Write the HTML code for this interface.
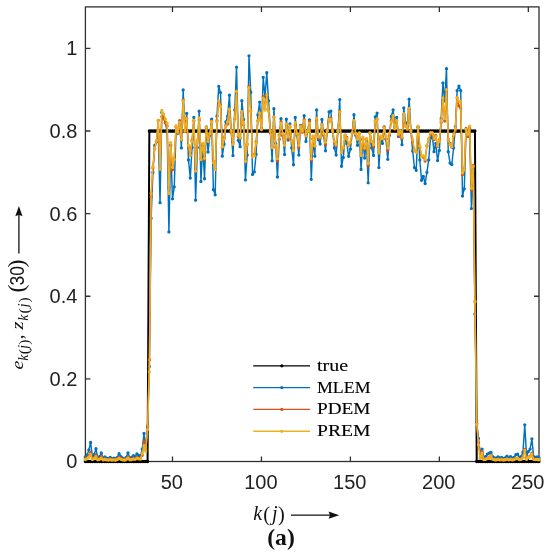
<!DOCTYPE html>
<html lang="en"><head><meta charset="utf-8"><title>Figure (a)</title>
<style>html,body{margin:0;padding:0;background:#fff}svg{display:block}</style></head>
<body>
<svg width="550" height="558" viewBox="0 0 550 558">
<rect width="550" height="558" fill="#fff"/>
<rect x="85.4" y="6.9" width="453.6" height="454.6" fill="none" stroke="#303030" stroke-width="1.3"/>
<path d="M172.48 461.5v-5M172.48 6.9v5M261.44 461.5v-5M261.44 6.9v5M350.40 461.5v-5M350.40 6.9v5M439.36 461.5v-5M439.36 6.9v5M528.32 461.5v-5M528.32 6.9v5M85.4 461.50h5M539.0 461.50h-5M85.4 378.88h5M539.0 378.88h-5M85.4 296.26h5M539.0 296.26h-5M85.4 213.64h5M539.0 213.64h-5M85.4 131.02h5M539.0 131.02h-5M85.4 48.40h5M539.0 48.40h-5" stroke="#303030" stroke-width="1.3" fill="none"/>
<g font-family="'Liberation Sans', sans-serif" font-size="20" fill="#222">
<text x="171.88" y="488.7" text-anchor="middle">50</text>
<text x="260.84" y="488.7" text-anchor="middle">100</text>
<text x="349.80" y="488.7" text-anchor="middle">150</text>
<text x="438.76" y="488.7" text-anchor="middle">200</text>
<text x="527.72" y="488.7" text-anchor="middle">250</text>
<text x="77.4" y="468.40" text-anchor="end">0</text>
<text x="77.4" y="385.78" text-anchor="end">0.2</text>
<text x="77.4" y="303.16" text-anchor="end">0.4</text>
<text x="77.4" y="220.54" text-anchor="end">0.6</text>
<text x="77.4" y="137.92" text-anchor="end">0.8</text>
<text x="77.4" y="55.30" text-anchor="end">1</text>
</g>
<polyline points="85.30,461.50 87.08,461.50 88.86,461.50 90.64,461.50 92.42,461.50 94.20,461.50 95.98,461.50 97.75,461.50 99.53,461.50 101.31,461.50 103.09,461.50 104.87,461.50 106.65,461.50 108.43,461.50 110.21,461.50 111.99,461.50 113.77,461.50 115.55,461.50 117.33,461.50 119.10,461.50 120.88,461.50 122.66,461.50 124.44,461.50 126.22,461.50 128.00,461.50 129.78,461.50 131.56,461.50 133.34,461.50 135.12,461.50 136.90,461.50 138.68,461.50 140.46,461.50 142.23,461.50 144.01,461.50 145.79,461.50 147.57,461.50 149.35,131.02 151.13,131.02 152.91,131.02 154.69,131.02 156.47,131.02 158.25,131.02 160.03,131.02 161.81,131.02 163.58,131.02 165.36,131.02 167.14,131.02 168.92,131.02 170.70,131.02 172.48,131.02 174.26,131.02 176.04,131.02 177.82,131.02 179.60,131.02 181.38,131.02 183.16,131.02 184.94,131.02 186.71,131.02 188.49,131.02 190.27,131.02 192.05,131.02 193.83,131.02 195.61,131.02 197.39,131.02 199.17,131.02 200.95,131.02 202.73,131.02 204.51,131.02 206.29,131.02 208.06,131.02 209.84,131.02 211.62,131.02 213.40,131.02 215.18,131.02 216.96,131.02 218.74,131.02 220.52,131.02 222.30,131.02 224.08,131.02 225.86,131.02 227.64,131.02 229.42,131.02 231.19,131.02 232.97,131.02 234.75,131.02 236.53,131.02 238.31,131.02 240.09,131.02 241.87,131.02 243.65,131.02 245.43,131.02 247.21,131.02 248.99,131.02 250.77,131.02 252.54,131.02 254.32,131.02 256.10,131.02 257.88,131.02 259.66,131.02 261.44,131.02 263.22,131.02 265.00,131.02 266.78,131.02 268.56,131.02 270.34,131.02 272.12,131.02 273.90,131.02 275.67,131.02 277.45,131.02 279.23,131.02 281.01,131.02 282.79,131.02 284.57,131.02 286.35,131.02 288.13,131.02 289.91,131.02 291.69,131.02 293.47,131.02 295.25,131.02 297.02,131.02 298.80,131.02 300.58,131.02 302.36,131.02 304.14,131.02 305.92,131.02 307.70,131.02 309.48,131.02 311.26,131.02 313.04,131.02 314.82,131.02 316.60,131.02 318.38,131.02 320.15,131.02 321.93,131.02 323.71,131.02 325.49,131.02 327.27,131.02 329.05,131.02 330.83,131.02 332.61,131.02 334.39,131.02 336.17,131.02 337.95,131.02 339.73,131.02 341.50,131.02 343.28,131.02 345.06,131.02 346.84,131.02 348.62,131.02 350.40,131.02 352.18,131.02 353.96,131.02 355.74,131.02 357.52,131.02 359.30,131.02 361.08,131.02 362.86,131.02 364.63,131.02 366.41,131.02 368.19,131.02 369.97,131.02 371.75,131.02 373.53,131.02 375.31,131.02 377.09,131.02 378.87,131.02 380.65,131.02 382.43,131.02 384.21,131.02 385.98,131.02 387.76,131.02 389.54,131.02 391.32,131.02 393.10,131.02 394.88,131.02 396.66,131.02 398.44,131.02 400.22,131.02 402.00,131.02 403.78,131.02 405.56,131.02 407.34,131.02 409.11,131.02 410.89,131.02 412.67,131.02 414.45,131.02 416.23,131.02 418.01,131.02 419.79,131.02 421.57,131.02 423.35,131.02 425.13,131.02 426.91,131.02 428.69,131.02 430.46,131.02 432.24,131.02 434.02,131.02 435.80,131.02 437.58,131.02 439.36,131.02 441.14,131.02 442.92,131.02 444.70,131.02 446.48,131.02 448.26,131.02 450.04,131.02 451.82,131.02 453.59,131.02 455.37,131.02 457.15,131.02 458.93,131.02 460.71,131.02 462.49,131.02 464.27,131.02 466.05,131.02 467.83,131.02 469.61,131.02 471.39,131.02 473.17,131.02 474.94,131.02 476.72,461.50 478.50,461.50 480.28,461.50 482.06,461.50 483.84,461.50 485.62,461.50 487.40,461.50 489.18,461.50 490.96,461.50 492.74,461.50 494.52,461.50 496.30,461.50 498.07,461.50 499.85,461.50 501.63,461.50 503.41,461.50 505.19,461.50 506.97,461.50 508.75,461.50 510.53,461.50 512.31,461.50 514.09,461.50 515.87,461.50 517.65,461.50 519.42,461.50 521.20,461.50 522.98,461.50 524.76,461.50 526.54,461.50 528.32,461.50 530.10,461.50 531.88,461.50 533.66,461.50 535.44,461.50 537.22,461.50 539.00,461.50" fill="none" stroke="#000000" stroke-width="2.0" stroke-linejoin="round"/>
<path d="M85.30 461.50h0M87.08 461.50h0M88.86 461.50h0M90.64 461.50h0M92.42 461.50h0M94.20 461.50h0M95.98 461.50h0M97.75 461.50h0M99.53 461.50h0M101.31 461.50h0M103.09 461.50h0M104.87 461.50h0M106.65 461.50h0M108.43 461.50h0M110.21 461.50h0M111.99 461.50h0M113.77 461.50h0M115.55 461.50h0M117.33 461.50h0M119.10 461.50h0M120.88 461.50h0M122.66 461.50h0M124.44 461.50h0M126.22 461.50h0M128.00 461.50h0M129.78 461.50h0M131.56 461.50h0M133.34 461.50h0M135.12 461.50h0M136.90 461.50h0M138.68 461.50h0M140.46 461.50h0M142.23 461.50h0M144.01 461.50h0M145.79 461.50h0M147.57 461.50h0M149.35 131.02h0M151.13 131.02h0M152.91 131.02h0M154.69 131.02h0M156.47 131.02h0M158.25 131.02h0M160.03 131.02h0M161.81 131.02h0M163.58 131.02h0M165.36 131.02h0M167.14 131.02h0M168.92 131.02h0M170.70 131.02h0M172.48 131.02h0M174.26 131.02h0M176.04 131.02h0M177.82 131.02h0M179.60 131.02h0M181.38 131.02h0M183.16 131.02h0M184.94 131.02h0M186.71 131.02h0M188.49 131.02h0M190.27 131.02h0M192.05 131.02h0M193.83 131.02h0M195.61 131.02h0M197.39 131.02h0M199.17 131.02h0M200.95 131.02h0M202.73 131.02h0M204.51 131.02h0M206.29 131.02h0M208.06 131.02h0M209.84 131.02h0M211.62 131.02h0M213.40 131.02h0M215.18 131.02h0M216.96 131.02h0M218.74 131.02h0M220.52 131.02h0M222.30 131.02h0M224.08 131.02h0M225.86 131.02h0M227.64 131.02h0M229.42 131.02h0M231.19 131.02h0M232.97 131.02h0M234.75 131.02h0M236.53 131.02h0M238.31 131.02h0M240.09 131.02h0M241.87 131.02h0M243.65 131.02h0M245.43 131.02h0M247.21 131.02h0M248.99 131.02h0M250.77 131.02h0M252.54 131.02h0M254.32 131.02h0M256.10 131.02h0M257.88 131.02h0M259.66 131.02h0M261.44 131.02h0M263.22 131.02h0M265.00 131.02h0M266.78 131.02h0M268.56 131.02h0M270.34 131.02h0M272.12 131.02h0M273.90 131.02h0M275.67 131.02h0M277.45 131.02h0M279.23 131.02h0M281.01 131.02h0M282.79 131.02h0M284.57 131.02h0M286.35 131.02h0M288.13 131.02h0M289.91 131.02h0M291.69 131.02h0M293.47 131.02h0M295.25 131.02h0M297.02 131.02h0M298.80 131.02h0M300.58 131.02h0M302.36 131.02h0M304.14 131.02h0M305.92 131.02h0M307.70 131.02h0M309.48 131.02h0M311.26 131.02h0M313.04 131.02h0M314.82 131.02h0M316.60 131.02h0M318.38 131.02h0M320.15 131.02h0M321.93 131.02h0M323.71 131.02h0M325.49 131.02h0M327.27 131.02h0M329.05 131.02h0M330.83 131.02h0M332.61 131.02h0M334.39 131.02h0M336.17 131.02h0M337.95 131.02h0M339.73 131.02h0M341.50 131.02h0M343.28 131.02h0M345.06 131.02h0M346.84 131.02h0M348.62 131.02h0M350.40 131.02h0M352.18 131.02h0M353.96 131.02h0M355.74 131.02h0M357.52 131.02h0M359.30 131.02h0M361.08 131.02h0M362.86 131.02h0M364.63 131.02h0M366.41 131.02h0M368.19 131.02h0M369.97 131.02h0M371.75 131.02h0M373.53 131.02h0M375.31 131.02h0M377.09 131.02h0M378.87 131.02h0M380.65 131.02h0M382.43 131.02h0M384.21 131.02h0M385.98 131.02h0M387.76 131.02h0M389.54 131.02h0M391.32 131.02h0M393.10 131.02h0M394.88 131.02h0M396.66 131.02h0M398.44 131.02h0M400.22 131.02h0M402.00 131.02h0M403.78 131.02h0M405.56 131.02h0M407.34 131.02h0M409.11 131.02h0M410.89 131.02h0M412.67 131.02h0M414.45 131.02h0M416.23 131.02h0M418.01 131.02h0M419.79 131.02h0M421.57 131.02h0M423.35 131.02h0M425.13 131.02h0M426.91 131.02h0M428.69 131.02h0M430.46 131.02h0M432.24 131.02h0M434.02 131.02h0M435.80 131.02h0M437.58 131.02h0M439.36 131.02h0M441.14 131.02h0M442.92 131.02h0M444.70 131.02h0M446.48 131.02h0M448.26 131.02h0M450.04 131.02h0M451.82 131.02h0M453.59 131.02h0M455.37 131.02h0M457.15 131.02h0M458.93 131.02h0M460.71 131.02h0M462.49 131.02h0M464.27 131.02h0M466.05 131.02h0M467.83 131.02h0M469.61 131.02h0M471.39 131.02h0M473.17 131.02h0M474.94 131.02h0M476.72 461.50h0M478.50 461.50h0M480.28 461.50h0M482.06 461.50h0M483.84 461.50h0M485.62 461.50h0M487.40 461.50h0M489.18 461.50h0M490.96 461.50h0M492.74 461.50h0M494.52 461.50h0M496.30 461.50h0M498.07 461.50h0M499.85 461.50h0M501.63 461.50h0M503.41 461.50h0M505.19 461.50h0M506.97 461.50h0M508.75 461.50h0M510.53 461.50h0M512.31 461.50h0M514.09 461.50h0M515.87 461.50h0M517.65 461.50h0M519.42 461.50h0M521.20 461.50h0M522.98 461.50h0M524.76 461.50h0M526.54 461.50h0M528.32 461.50h0M530.10 461.50h0M531.88 461.50h0M533.66 461.50h0M535.44 461.50h0M537.22 461.50h0M539.00 461.50h0" fill="none" stroke="#000000" stroke-width="3.3" stroke-linecap="round"/>

<polyline points="85.30,456.96 87.08,454.89 88.86,449.93 90.64,442.50 92.42,456.96 94.20,454.48 95.98,448.69 97.75,457.78 99.53,456.54 101.31,452.82 103.09,458.20 104.87,456.96 106.65,458.20 108.43,458.61 110.21,457.37 111.99,459.02 113.77,458.20 115.55,459.02 117.33,457.37 119.10,453.65 120.88,456.54 122.66,458.20 124.44,459.02 126.22,457.37 128.00,452.82 129.78,457.78 131.56,457.37 133.34,455.72 135.12,456.54 136.90,453.86 138.68,455.30 140.46,456.13 142.23,449.11 144.01,433.41 145.79,447.04 147.57,427.63 149.35,366.49 151.13,218.18 152.91,172.33 154.69,145.48 156.47,141.35 158.25,131.02 160.03,202.65 161.81,112.43 163.58,116.56 165.36,122.76 167.14,131.02 168.92,231.94 170.70,145.48 172.48,198.85 174.26,186.79 176.04,131.02 177.82,132.67 179.60,122.76 181.38,147.96 183.16,89.92 184.94,131.02 186.71,113.46 188.49,159.94 190.27,178.11 192.05,147.54 193.83,117.39 195.61,200.13 197.39,147.54 199.17,111.19 200.95,181.42 202.73,145.48 204.51,178.73 206.29,126.89 208.06,152.09 209.84,135.15 211.62,119.04 213.40,189.68 215.18,194.84 216.96,116.15 218.74,86.28 220.52,92.60 222.30,156.22 224.08,144.24 225.86,121.93 227.64,116.15 229.42,95.20 231.19,131.02 232.97,155.60 234.75,109.95 236.53,67.20 238.31,140.31 240.09,146.72 241.87,100.66 243.65,119.45 245.43,179.93 247.21,154.98 248.99,55.84 250.77,92.19 252.54,174.40 254.32,171.92 256.10,154.32 257.88,114.91 259.66,102.10 261.44,128.95 263.22,77.32 265.00,97.15 266.78,72.77 268.56,100.86 270.34,131.02 272.12,160.76 273.90,108.71 275.67,143.41 277.45,177.00 279.23,139.28 281.01,118.63 282.79,135.15 284.57,154.57 286.35,119.16 288.13,140.11 289.91,124.00 291.69,147.96 293.47,164.73 295.25,117.51 297.02,135.15 298.80,155.06 300.58,125.40 302.36,131.02 304.14,115.74 305.92,141.47 307.70,131.02 309.48,119.87 311.26,179.35 313.04,139.28 314.82,156.22 316.60,109.95 318.38,139.70 320.15,143.99 321.93,119.45 323.71,135.15 325.49,150.85 327.27,131.02 329.05,111.81 330.83,111.19 332.61,131.02 334.39,147.96 336.17,154.98 337.95,131.02 339.73,99.62 341.50,166.26 343.28,157.46 345.06,137.22 346.84,143.41 348.62,156.34 350.40,149.20 352.18,133.09 353.96,114.74 355.74,135.15 357.52,145.27 359.30,133.09 361.08,169.44 362.86,139.28 364.63,158.00 366.41,141.35 368.19,182.82 369.97,133.09 371.75,147.96 373.53,155.39 375.31,116.97 377.09,113.09 378.87,167.54 380.65,139.28 382.43,143.41 384.21,126.89 385.98,139.28 387.76,159.28 389.54,135.15 391.32,116.27 393.10,109.95 394.88,126.89 396.66,117.39 398.44,136.39 400.22,131.02 402.00,144.65 403.78,107.97 405.56,122.76 407.34,126.89 409.11,99.21 410.89,131.02 412.67,151.01 414.45,167.54 416.23,170.35 418.01,126.89 419.79,159.94 421.57,180.26 423.35,176.46 425.13,183.48 426.91,172.33 428.69,159.94 430.46,138.29 432.24,135.15 434.02,151.67 435.80,143.41 437.58,160.56 439.36,150.44 441.14,118.63 442.92,82.94 444.70,100.86 446.48,68.64 448.26,151.67 450.04,163.08 451.82,164.48 453.59,147.96 455.37,126.89 457.15,90.54 458.93,86.12 460.71,90.54 462.49,196.08 464.27,188.85 466.05,131.02 467.83,135.15 469.61,128.95 471.39,208.56 473.17,169.85 474.94,314.02 476.72,423.70 478.50,438.37 480.28,453.65 482.06,449.11 483.84,457.37 485.62,456.54 487.40,454.06 489.18,453.24 490.96,452.41 492.74,456.54 494.52,457.78 496.30,458.20 498.07,456.79 499.85,458.20 501.63,457.37 503.41,458.61 505.19,457.78 506.97,456.13 508.75,458.20 510.53,456.54 512.31,458.20 514.09,457.37 515.87,454.64 517.65,454.06 519.42,457.37 521.20,456.54 522.98,452.00 524.76,424.82 526.54,456.54 528.32,451.59 530.10,449.11 531.88,438.78 533.66,456.54 535.44,457.37 537.22,456.96 539.00,457.78" fill="none" stroke="#0072BD" stroke-width="1.45" stroke-linejoin="round"/>
<path d="M85.30 456.96h0M87.08 454.89h0M88.86 449.93h0M90.64 442.50h0M92.42 456.96h0M94.20 454.48h0M95.98 448.69h0M97.75 457.78h0M99.53 456.54h0M101.31 452.82h0M103.09 458.20h0M104.87 456.96h0M106.65 458.20h0M108.43 458.61h0M110.21 457.37h0M111.99 459.02h0M113.77 458.20h0M115.55 459.02h0M117.33 457.37h0M119.10 453.65h0M120.88 456.54h0M122.66 458.20h0M124.44 459.02h0M126.22 457.37h0M128.00 452.82h0M129.78 457.78h0M131.56 457.37h0M133.34 455.72h0M135.12 456.54h0M136.90 453.86h0M138.68 455.30h0M140.46 456.13h0M142.23 449.11h0M144.01 433.41h0M145.79 447.04h0M147.57 427.63h0M149.35 366.49h0M151.13 218.18h0M152.91 172.33h0M154.69 145.48h0M156.47 141.35h0M158.25 131.02h0M160.03 202.65h0M161.81 112.43h0M163.58 116.56h0M165.36 122.76h0M167.14 131.02h0M168.92 231.94h0M170.70 145.48h0M172.48 198.85h0M174.26 186.79h0M176.04 131.02h0M177.82 132.67h0M179.60 122.76h0M181.38 147.96h0M183.16 89.92h0M184.94 131.02h0M186.71 113.46h0M188.49 159.94h0M190.27 178.11h0M192.05 147.54h0M193.83 117.39h0M195.61 200.13h0M197.39 147.54h0M199.17 111.19h0M200.95 181.42h0M202.73 145.48h0M204.51 178.73h0M206.29 126.89h0M208.06 152.09h0M209.84 135.15h0M211.62 119.04h0M213.40 189.68h0M215.18 194.84h0M216.96 116.15h0M218.74 86.28h0M220.52 92.60h0M222.30 156.22h0M224.08 144.24h0M225.86 121.93h0M227.64 116.15h0M229.42 95.20h0M231.19 131.02h0M232.97 155.60h0M234.75 109.95h0M236.53 67.20h0M238.31 140.31h0M240.09 146.72h0M241.87 100.66h0M243.65 119.45h0M245.43 179.93h0M247.21 154.98h0M248.99 55.84h0M250.77 92.19h0M252.54 174.40h0M254.32 171.92h0M256.10 154.32h0M257.88 114.91h0M259.66 102.10h0M261.44 128.95h0M263.22 77.32h0M265.00 97.15h0M266.78 72.77h0M268.56 100.86h0M270.34 131.02h0M272.12 160.76h0M273.90 108.71h0M275.67 143.41h0M277.45 177.00h0M279.23 139.28h0M281.01 118.63h0M282.79 135.15h0M284.57 154.57h0M286.35 119.16h0M288.13 140.11h0M289.91 124.00h0M291.69 147.96h0M293.47 164.73h0M295.25 117.51h0M297.02 135.15h0M298.80 155.06h0M300.58 125.40h0M302.36 131.02h0M304.14 115.74h0M305.92 141.47h0M307.70 131.02h0M309.48 119.87h0M311.26 179.35h0M313.04 139.28h0M314.82 156.22h0M316.60 109.95h0M318.38 139.70h0M320.15 143.99h0M321.93 119.45h0M323.71 135.15h0M325.49 150.85h0M327.27 131.02h0M329.05 111.81h0M330.83 111.19h0M332.61 131.02h0M334.39 147.96h0M336.17 154.98h0M337.95 131.02h0M339.73 99.62h0M341.50 166.26h0M343.28 157.46h0M345.06 137.22h0M346.84 143.41h0M348.62 156.34h0M350.40 149.20h0M352.18 133.09h0M353.96 114.74h0M355.74 135.15h0M357.52 145.27h0M359.30 133.09h0M361.08 169.44h0M362.86 139.28h0M364.63 158.00h0M366.41 141.35h0M368.19 182.82h0M369.97 133.09h0M371.75 147.96h0M373.53 155.39h0M375.31 116.97h0M377.09 113.09h0M378.87 167.54h0M380.65 139.28h0M382.43 143.41h0M384.21 126.89h0M385.98 139.28h0M387.76 159.28h0M389.54 135.15h0M391.32 116.27h0M393.10 109.95h0M394.88 126.89h0M396.66 117.39h0M398.44 136.39h0M400.22 131.02h0M402.00 144.65h0M403.78 107.97h0M405.56 122.76h0M407.34 126.89h0M409.11 99.21h0M410.89 131.02h0M412.67 151.01h0M414.45 167.54h0M416.23 170.35h0M418.01 126.89h0M419.79 159.94h0M421.57 180.26h0M423.35 176.46h0M425.13 183.48h0M426.91 172.33h0M428.69 159.94h0M430.46 138.29h0M432.24 135.15h0M434.02 151.67h0M435.80 143.41h0M437.58 160.56h0M439.36 150.44h0M441.14 118.63h0M442.92 82.94h0M444.70 100.86h0M446.48 68.64h0M448.26 151.67h0M450.04 163.08h0M451.82 164.48h0M453.59 147.96h0M455.37 126.89h0M457.15 90.54h0M458.93 86.12h0M460.71 90.54h0M462.49 196.08h0M464.27 188.85h0M466.05 131.02h0M467.83 135.15h0M469.61 128.95h0M471.39 208.56h0M473.17 169.85h0M474.94 314.02h0M476.72 423.70h0M478.50 438.37h0M480.28 453.65h0M482.06 449.11h0M483.84 457.37h0M485.62 456.54h0M487.40 454.06h0M489.18 453.24h0M490.96 452.41h0M492.74 456.54h0M494.52 457.78h0M496.30 458.20h0M498.07 456.79h0M499.85 458.20h0M501.63 457.37h0M503.41 458.61h0M505.19 457.78h0M506.97 456.13h0M508.75 458.20h0M510.53 456.54h0M512.31 458.20h0M514.09 457.37h0M515.87 454.64h0M517.65 454.06h0M519.42 457.37h0M521.20 456.54h0M522.98 452.00h0M524.76 424.82h0M526.54 456.54h0M528.32 451.59h0M530.10 449.11h0M531.88 438.78h0M533.66 456.54h0M535.44 457.37h0M537.22 456.96h0M539.00 457.78h0" fill="none" stroke="#0072BD" stroke-width="3.3" stroke-linecap="round"/>

<polyline points="85.30,458.84 87.08,457.91 88.86,455.68 90.64,452.33 92.42,458.84 94.20,457.72 95.98,455.12 97.75,459.21 99.53,458.65 101.31,456.98 103.09,459.39 104.87,458.84 106.65,459.39 108.43,459.58 110.21,459.02 111.99,459.76 113.77,459.39 115.55,459.76 117.33,459.02 119.10,457.35 120.88,458.65 122.66,459.39 124.44,459.76 126.22,459.02 128.00,456.98 129.78,459.21 131.56,459.02 133.34,458.28 135.12,458.65 136.90,457.44 138.68,458.09 140.46,458.46 142.23,455.30 144.01,441.26 145.79,449.11 147.57,425.97 149.35,359.88 151.13,197.12 152.91,168.04 154.69,148.60 156.47,141.47 158.25,120.43 160.03,169.08 161.81,116.56 163.58,118.63 165.36,122.76 167.14,126.06 168.92,187.61 170.70,144.79 172.48,169.80 174.26,158.54 176.04,127.06 177.82,133.56 179.60,120.71 181.38,139.82 183.16,99.89 184.94,131.53 186.71,118.47 188.49,147.33 190.27,155.04 192.05,140.16 193.83,120.76 195.61,170.51 197.39,140.97 199.17,120.01 200.95,158.87 202.73,143.86 204.51,159.52 206.29,129.24 208.06,140.25 209.84,134.11 211.62,121.23 213.40,161.43 215.18,169.09 216.96,120.47 218.74,101.71 220.52,105.20 222.30,147.36 224.08,137.83 225.86,125.32 227.64,123.88 229.42,111.04 231.19,132.60 232.97,142.73 234.75,118.63 236.53,91.25 238.31,136.39 240.09,138.01 241.87,112.61 243.65,124.88 245.43,161.36 247.21,144.30 248.99,86.39 250.77,110.85 252.54,155.48 254.32,154.75 256.10,141.80 257.88,120.74 259.66,114.81 261.44,128.41 263.22,96.63 265.00,108.76 266.78,94.92 268.56,110.72 270.34,132.63 272.12,146.59 273.90,117.08 275.67,147.19 277.45,160.91 279.23,135.09 281.01,121.56 282.79,135.69 284.57,144.44 286.35,124.78 288.13,138.51 289.91,127.08 291.69,140.82 293.47,149.31 295.25,125.05 297.02,133.52 298.80,147.56 300.58,125.99 302.36,132.13 304.14,119.53 305.92,134.16 307.70,131.41 309.48,121.52 311.26,159.90 313.04,138.30 314.82,145.89 316.60,120.56 318.38,138.06 320.15,138.01 321.93,124.49 323.71,135.41 325.49,144.48 327.27,129.91 329.05,120.64 330.83,117.97 332.61,129.79 334.39,142.44 336.17,145.23 337.95,131.35 339.73,111.63 341.50,152.31 343.28,147.58 345.06,135.07 346.84,137.30 348.62,145.66 350.40,142.99 352.18,132.30 353.96,122.19 355.74,134.82 357.52,137.72 359.30,133.12 361.08,155.61 362.86,139.44 364.63,148.72 366.41,138.95 368.19,165.64 369.97,132.73 371.75,141.39 373.53,146.88 375.31,121.24 377.09,119.34 378.87,152.59 380.65,137.16 382.43,138.26 384.21,127.14 385.98,138.53 387.76,150.19 389.54,133.27 391.32,120.38 393.10,117.18 394.88,129.05 396.66,120.72 398.44,135.51 400.22,132.00 402.00,138.20 403.78,114.62 405.56,125.92 407.34,129.70 409.11,109.22 410.89,130.31 412.67,142.06 414.45,150.56 416.23,151.69 418.01,127.38 419.79,147.45 421.57,155.79 423.35,157.30 425.13,160.98 426.91,145.95 428.69,138.88 430.46,134.73 432.24,133.82 434.02,139.56 435.80,135.43 437.58,146.56 439.36,139.88 441.14,122.34 442.92,99.96 444.70,121.11 446.48,90.63 448.26,139.49 450.04,143.48 451.82,147.17 453.59,136.00 455.37,130.44 457.15,97.85 458.93,105.82 460.71,108.30 462.49,174.64 464.27,169.00 466.05,128.38 467.83,136.39 469.61,127.91 471.39,189.52 473.17,165.69 474.94,301.46 476.72,420.60 478.50,443.45 480.28,457.92 482.06,451.17 483.84,459.26 485.62,458.96 487.40,458.07 489.18,457.77 490.96,455.05 492.74,458.96 494.52,459.41 496.30,459.56 498.07,459.05 499.85,459.56 501.63,459.26 503.41,459.71 505.19,459.41 506.97,458.82 508.75,459.56 510.53,458.96 512.31,459.56 514.09,459.26 515.87,458.28 517.65,458.07 519.42,459.26 521.20,458.96 522.98,457.32 524.76,449.43 526.54,458.96 528.32,457.17 530.10,456.27 531.88,453.26 533.66,458.96 535.44,459.26 537.22,459.11 539.00,459.41" fill="none" stroke="#D95319" stroke-width="1.45" stroke-linejoin="round"/>
<path d="M85.30 458.84h0M87.08 457.91h0M88.86 455.68h0M90.64 452.33h0M92.42 458.84h0M94.20 457.72h0M95.98 455.12h0M97.75 459.21h0M99.53 458.65h0M101.31 456.98h0M103.09 459.39h0M104.87 458.84h0M106.65 459.39h0M108.43 459.58h0M110.21 459.02h0M111.99 459.76h0M113.77 459.39h0M115.55 459.76h0M117.33 459.02h0M119.10 457.35h0M120.88 458.65h0M122.66 459.39h0M124.44 459.76h0M126.22 459.02h0M128.00 456.98h0M129.78 459.21h0M131.56 459.02h0M133.34 458.28h0M135.12 458.65h0M136.90 457.44h0M138.68 458.09h0M140.46 458.46h0M142.23 455.30h0M144.01 441.26h0M145.79 449.11h0M147.57 425.97h0M149.35 359.88h0M151.13 197.12h0M152.91 168.04h0M154.69 148.60h0M156.47 141.47h0M158.25 120.43h0M160.03 169.08h0M161.81 116.56h0M163.58 118.63h0M165.36 122.76h0M167.14 126.06h0M168.92 187.61h0M170.70 144.79h0M172.48 169.80h0M174.26 158.54h0M176.04 127.06h0M177.82 133.56h0M179.60 120.71h0M181.38 139.82h0M183.16 99.89h0M184.94 131.53h0M186.71 118.47h0M188.49 147.33h0M190.27 155.04h0M192.05 140.16h0M193.83 120.76h0M195.61 170.51h0M197.39 140.97h0M199.17 120.01h0M200.95 158.87h0M202.73 143.86h0M204.51 159.52h0M206.29 129.24h0M208.06 140.25h0M209.84 134.11h0M211.62 121.23h0M213.40 161.43h0M215.18 169.09h0M216.96 120.47h0M218.74 101.71h0M220.52 105.20h0M222.30 147.36h0M224.08 137.83h0M225.86 125.32h0M227.64 123.88h0M229.42 111.04h0M231.19 132.60h0M232.97 142.73h0M234.75 118.63h0M236.53 91.25h0M238.31 136.39h0M240.09 138.01h0M241.87 112.61h0M243.65 124.88h0M245.43 161.36h0M247.21 144.30h0M248.99 86.39h0M250.77 110.85h0M252.54 155.48h0M254.32 154.75h0M256.10 141.80h0M257.88 120.74h0M259.66 114.81h0M261.44 128.41h0M263.22 96.63h0M265.00 108.76h0M266.78 94.92h0M268.56 110.72h0M270.34 132.63h0M272.12 146.59h0M273.90 117.08h0M275.67 147.19h0M277.45 160.91h0M279.23 135.09h0M281.01 121.56h0M282.79 135.69h0M284.57 144.44h0M286.35 124.78h0M288.13 138.51h0M289.91 127.08h0M291.69 140.82h0M293.47 149.31h0M295.25 125.05h0M297.02 133.52h0M298.80 147.56h0M300.58 125.99h0M302.36 132.13h0M304.14 119.53h0M305.92 134.16h0M307.70 131.41h0M309.48 121.52h0M311.26 159.90h0M313.04 138.30h0M314.82 145.89h0M316.60 120.56h0M318.38 138.06h0M320.15 138.01h0M321.93 124.49h0M323.71 135.41h0M325.49 144.48h0M327.27 129.91h0M329.05 120.64h0M330.83 117.97h0M332.61 129.79h0M334.39 142.44h0M336.17 145.23h0M337.95 131.35h0M339.73 111.63h0M341.50 152.31h0M343.28 147.58h0M345.06 135.07h0M346.84 137.30h0M348.62 145.66h0M350.40 142.99h0M352.18 132.30h0M353.96 122.19h0M355.74 134.82h0M357.52 137.72h0M359.30 133.12h0M361.08 155.61h0M362.86 139.44h0M364.63 148.72h0M366.41 138.95h0M368.19 165.64h0M369.97 132.73h0M371.75 141.39h0M373.53 146.88h0M375.31 121.24h0M377.09 119.34h0M378.87 152.59h0M380.65 137.16h0M382.43 138.26h0M384.21 127.14h0M385.98 138.53h0M387.76 150.19h0M389.54 133.27h0M391.32 120.38h0M393.10 117.18h0M394.88 129.05h0M396.66 120.72h0M398.44 135.51h0M400.22 132.00h0M402.00 138.20h0M403.78 114.62h0M405.56 125.92h0M407.34 129.70h0M409.11 109.22h0M410.89 130.31h0M412.67 142.06h0M414.45 150.56h0M416.23 151.69h0M418.01 127.38h0M419.79 147.45h0M421.57 155.79h0M423.35 157.30h0M425.13 160.98h0M426.91 145.95h0M428.69 138.88h0M430.46 134.73h0M432.24 133.82h0M434.02 139.56h0M435.80 135.43h0M437.58 146.56h0M439.36 139.88h0M441.14 122.34h0M442.92 99.96h0M444.70 121.11h0M446.48 90.63h0M448.26 139.49h0M450.04 143.48h0M451.82 147.17h0M453.59 136.00h0M455.37 130.44h0M457.15 97.85h0M458.93 105.82h0M460.71 108.30h0M462.49 174.64h0M464.27 169.00h0M466.05 128.38h0M467.83 136.39h0M469.61 127.91h0M471.39 189.52h0M473.17 165.69h0M474.94 301.46h0M476.72 420.60h0M478.50 443.45h0M480.28 457.92h0M482.06 451.17h0M483.84 459.26h0M485.62 458.96h0M487.40 458.07h0M489.18 457.77h0M490.96 455.05h0M492.74 458.96h0M494.52 459.41h0M496.30 459.56h0M498.07 459.05h0M499.85 459.56h0M501.63 459.26h0M503.41 459.71h0M505.19 459.41h0M506.97 458.82h0M508.75 459.56h0M510.53 458.96h0M512.31 459.56h0M514.09 459.26h0M515.87 458.28h0M517.65 458.07h0M519.42 459.26h0M521.20 458.96h0M522.98 457.32h0M524.76 449.43h0M526.54 458.96h0M528.32 457.17h0M530.10 456.27h0M531.88 453.26h0M533.66 458.96h0M535.44 459.26h0M537.22 459.11h0M539.00 459.41h0" fill="none" stroke="#D95319" stroke-width="3.3" stroke-linecap="round"/>

<polyline points="85.30,459.48 87.08,458.79 88.86,457.13 90.64,454.64 92.42,459.48 94.20,458.65 95.98,456.71 97.75,459.76 99.53,459.34 101.31,458.10 103.09,459.90 104.87,459.48 106.65,459.90 108.43,460.04 110.21,459.62 111.99,460.17 113.77,459.90 115.55,460.17 117.33,459.62 119.10,458.37 120.88,459.34 122.66,459.90 124.44,460.17 126.22,459.62 128.00,458.10 129.78,459.76 131.56,459.62 133.34,459.07 135.12,459.34 136.90,458.44 138.68,458.93 140.46,459.21 142.23,453.24 144.01,445.60 145.79,451.17 147.57,429.28 149.35,371.86 151.13,193.40 152.91,166.55 154.69,148.37 156.47,140.52 158.25,120.44 160.03,169.19 161.81,110.37 163.58,114.08 165.36,119.04 167.14,123.17 168.92,193.40 170.70,142.59 172.48,167.37 174.26,159.52 176.04,125.65 177.82,132.04 179.60,122.34 181.38,139.28 183.16,100.86 184.94,131.02 186.71,118.63 188.49,145.48 190.27,155.19 192.05,141.26 193.83,120.44 195.61,171.09 197.39,141.26 199.17,117.80 200.95,159.52 202.73,143.83 204.51,158.28 206.29,126.89 208.06,141.35 209.84,133.58 211.62,121.73 213.40,162.58 215.18,169.56 216.96,121.80 218.74,100.86 220.52,106.03 222.30,146.72 224.08,139.22 225.86,126.48 227.64,121.80 229.42,109.13 231.19,131.02 232.97,144.24 234.75,117.96 236.53,91.36 238.31,135.15 240.09,137.63 241.87,111.73 243.65,123.85 245.43,161.30 247.21,144.24 248.99,87.64 250.77,111.19 252.54,156.84 254.32,155.81 256.10,143.41 257.88,121.03 259.66,113.01 261.44,129.49 263.22,98.14 265.00,110.02 266.78,94.79 268.56,111.19 270.34,131.02 272.12,147.54 273.90,116.97 275.67,145.89 277.45,158.70 279.23,136.14 281.01,123.17 282.79,133.58 284.57,145.27 286.35,124.00 288.13,136.65 289.91,125.81 291.69,141.52 293.47,150.44 295.25,122.76 297.02,133.58 298.80,145.27 300.58,126.48 302.36,131.02 304.14,120.69 305.92,135.73 307.70,131.02 309.48,123.17 311.26,158.70 313.04,136.14 314.82,145.89 316.60,118.21 318.38,136.40 320.15,137.22 321.93,124.53 323.71,133.58 325.49,142.17 327.27,131.02 329.05,119.45 330.83,119.45 332.61,131.02 334.39,141.52 336.17,144.65 337.95,131.02 339.73,111.81 341.50,152.29 343.28,147.41 345.06,135.15 346.84,138.70 348.62,145.27 350.40,142.29 352.18,132.80 353.96,120.69 355.74,133.58 357.52,139.28 359.30,132.80 361.08,155.39 362.86,137.01 364.63,147.96 366.41,138.87 368.19,163.24 369.97,132.80 371.75,141.52 373.53,144.65 375.31,121.35 377.09,118.79 378.87,152.91 380.65,136.14 382.43,138.70 384.21,127.72 385.98,136.14 387.76,147.96 389.54,133.58 391.32,121.88 393.10,115.74 394.88,128.46 396.66,120.69 398.44,134.35 400.22,131.02 402.00,137.01 403.78,113.67 405.56,125.90 407.34,128.46 409.11,108.30 410.89,131.02 412.67,139.70 414.45,150.44 416.23,152.25 418.01,126.19 419.79,145.89 421.57,156.63 423.35,155.81 425.13,159.28 426.91,145.27 428.69,139.28 430.46,132.67 432.24,132.67 434.02,138.46 435.80,136.39 437.58,145.89 439.36,140.93 441.14,120.69 442.92,98.18 444.70,118.63 446.48,89.54 448.26,139.70 450.04,144.65 451.82,146.55 453.59,134.45 455.37,128.46 457.15,97.56 458.93,101.28 460.71,101.28 462.49,172.95 464.27,169.85 466.05,129.37 467.83,134.32 469.61,126.19 471.39,188.19 473.17,166.55 474.94,301.63 476.72,424.32 478.50,444.98 480.28,458.37 482.06,453.24 483.84,459.62 485.62,459.34 487.40,458.51 489.18,458.24 490.96,455.72 492.74,459.34 494.52,459.76 496.30,459.90 498.07,459.43 499.85,459.90 501.63,459.62 503.41,460.04 505.19,459.76 506.97,459.21 508.75,459.90 510.53,459.34 512.31,459.90 514.09,459.62 515.87,458.71 517.65,458.51 519.42,459.62 521.20,459.34 522.98,457.82 524.76,450.51 526.54,459.34 528.32,457.68 530.10,456.85 531.88,454.06 533.66,459.34 535.44,459.62 537.22,459.48 539.00,459.76" fill="none" stroke="#EDB120" stroke-width="1.45" stroke-linejoin="round"/>
<path d="M85.30 459.48h0M87.08 458.79h0M88.86 457.13h0M90.64 454.64h0M92.42 459.48h0M94.20 458.65h0M95.98 456.71h0M97.75 459.76h0M99.53 459.34h0M101.31 458.10h0M103.09 459.90h0M104.87 459.48h0M106.65 459.90h0M108.43 460.04h0M110.21 459.62h0M111.99 460.17h0M113.77 459.90h0M115.55 460.17h0M117.33 459.62h0M119.10 458.37h0M120.88 459.34h0M122.66 459.90h0M124.44 460.17h0M126.22 459.62h0M128.00 458.10h0M129.78 459.76h0M131.56 459.62h0M133.34 459.07h0M135.12 459.34h0M136.90 458.44h0M138.68 458.93h0M140.46 459.21h0M142.23 453.24h0M144.01 445.60h0M145.79 451.17h0M147.57 429.28h0M149.35 371.86h0M151.13 193.40h0M152.91 166.55h0M154.69 148.37h0M156.47 140.52h0M158.25 120.44h0M160.03 169.19h0M161.81 110.37h0M163.58 114.08h0M165.36 119.04h0M167.14 123.17h0M168.92 193.40h0M170.70 142.59h0M172.48 167.37h0M174.26 159.52h0M176.04 125.65h0M177.82 132.04h0M179.60 122.34h0M181.38 139.28h0M183.16 100.86h0M184.94 131.02h0M186.71 118.63h0M188.49 145.48h0M190.27 155.19h0M192.05 141.26h0M193.83 120.44h0M195.61 171.09h0M197.39 141.26h0M199.17 117.80h0M200.95 159.52h0M202.73 143.83h0M204.51 158.28h0M206.29 126.89h0M208.06 141.35h0M209.84 133.58h0M211.62 121.73h0M213.40 162.58h0M215.18 169.56h0M216.96 121.80h0M218.74 100.86h0M220.52 106.03h0M222.30 146.72h0M224.08 139.22h0M225.86 126.48h0M227.64 121.80h0M229.42 109.13h0M231.19 131.02h0M232.97 144.24h0M234.75 117.96h0M236.53 91.36h0M238.31 135.15h0M240.09 137.63h0M241.87 111.73h0M243.65 123.85h0M245.43 161.30h0M247.21 144.24h0M248.99 87.64h0M250.77 111.19h0M252.54 156.84h0M254.32 155.81h0M256.10 143.41h0M257.88 121.03h0M259.66 113.01h0M261.44 129.49h0M263.22 98.14h0M265.00 110.02h0M266.78 94.79h0M268.56 111.19h0M270.34 131.02h0M272.12 147.54h0M273.90 116.97h0M275.67 145.89h0M277.45 158.70h0M279.23 136.14h0M281.01 123.17h0M282.79 133.58h0M284.57 145.27h0M286.35 124.00h0M288.13 136.65h0M289.91 125.81h0M291.69 141.52h0M293.47 150.44h0M295.25 122.76h0M297.02 133.58h0M298.80 145.27h0M300.58 126.48h0M302.36 131.02h0M304.14 120.69h0M305.92 135.73h0M307.70 131.02h0M309.48 123.17h0M311.26 158.70h0M313.04 136.14h0M314.82 145.89h0M316.60 118.21h0M318.38 136.40h0M320.15 137.22h0M321.93 124.53h0M323.71 133.58h0M325.49 142.17h0M327.27 131.02h0M329.05 119.45h0M330.83 119.45h0M332.61 131.02h0M334.39 141.52h0M336.17 144.65h0M337.95 131.02h0M339.73 111.81h0M341.50 152.29h0M343.28 147.41h0M345.06 135.15h0M346.84 138.70h0M348.62 145.27h0M350.40 142.29h0M352.18 132.80h0M353.96 120.69h0M355.74 133.58h0M357.52 139.28h0M359.30 132.80h0M361.08 155.39h0M362.86 137.01h0M364.63 147.96h0M366.41 138.87h0M368.19 163.24h0M369.97 132.80h0M371.75 141.52h0M373.53 144.65h0M375.31 121.35h0M377.09 118.79h0M378.87 152.91h0M380.65 136.14h0M382.43 138.70h0M384.21 127.72h0M385.98 136.14h0M387.76 147.96h0M389.54 133.58h0M391.32 121.88h0M393.10 115.74h0M394.88 128.46h0M396.66 120.69h0M398.44 134.35h0M400.22 131.02h0M402.00 137.01h0M403.78 113.67h0M405.56 125.90h0M407.34 128.46h0M409.11 108.30h0M410.89 131.02h0M412.67 139.70h0M414.45 150.44h0M416.23 152.25h0M418.01 126.19h0M419.79 145.89h0M421.57 156.63h0M423.35 155.81h0M425.13 159.28h0M426.91 145.27h0M428.69 139.28h0M430.46 132.67h0M432.24 132.67h0M434.02 138.46h0M435.80 136.39h0M437.58 145.89h0M439.36 140.93h0M441.14 120.69h0M442.92 98.18h0M444.70 118.63h0M446.48 89.54h0M448.26 139.70h0M450.04 144.65h0M451.82 146.55h0M453.59 134.45h0M455.37 128.46h0M457.15 97.56h0M458.93 101.28h0M460.71 101.28h0M462.49 172.95h0M464.27 169.85h0M466.05 129.37h0M467.83 134.32h0M469.61 126.19h0M471.39 188.19h0M473.17 166.55h0M474.94 301.63h0M476.72 424.32h0M478.50 444.98h0M480.28 458.37h0M482.06 453.24h0M483.84 459.62h0M485.62 459.34h0M487.40 458.51h0M489.18 458.24h0M490.96 455.72h0M492.74 459.34h0M494.52 459.76h0M496.30 459.90h0M498.07 459.43h0M499.85 459.90h0M501.63 459.62h0M503.41 460.04h0M505.19 459.76h0M506.97 459.21h0M508.75 459.90h0M510.53 459.34h0M512.31 459.90h0M514.09 459.62h0M515.87 458.71h0M517.65 458.51h0M519.42 459.62h0M521.20 459.34h0M522.98 457.82h0M524.76 450.51h0M526.54 459.34h0M528.32 457.68h0M530.10 456.85h0M531.88 454.06h0M533.66 459.34h0M535.44 459.62h0M537.22 459.48h0M539.00 459.76h0" fill="none" stroke="#EDB120" stroke-width="3.3" stroke-linecap="round"/>

<g font-family="'Liberation Serif', serif" font-size="16.6" fill="#000" stroke="#000" stroke-width="0.12">
<path d="M253.2 365.8H310" stroke="#000000" stroke-width="1.2" fill="none"/><circle cx="281.8" cy="365.8" r="1.6" fill="#000000" stroke="none"/>
<text x="317" y="370.7" textLength="31" lengthAdjust="spacingAndGlyphs">true</text>
<path d="M253.2 387.6H310" stroke="#0072BD" stroke-width="1.4" fill="none"/><circle cx="281.8" cy="387.6" r="1.6" fill="#0072BD" stroke="none"/>
<text x="317" y="392.5" textLength="53.5" lengthAdjust="spacingAndGlyphs">MLEM</text>
<path d="M253.2 409.4H310" stroke="#D95319" stroke-width="1.4" fill="none"/><circle cx="281.8" cy="409.4" r="1.6" fill="#D95319" stroke="none"/>
<text x="317" y="414.3" textLength="53.5" lengthAdjust="spacingAndGlyphs">PDEM</text>
<path d="M253.2 431.3H310" stroke="#EDB120" stroke-width="1.4" fill="none"/><circle cx="281.8" cy="431.3" r="1.6" fill="#EDB120" stroke="none"/>
<text x="317" y="436.2" textLength="53.5" lengthAdjust="spacingAndGlyphs">PREM</text>
</g>
<g font-family="'Liberation Serif', serif" fill="#111">
<text font-size="20"><tspan x="253.2" y="519.6" font-style="italic">k</tspan><tspan x="263.2" y="520.6" font-size="20.4">(</tspan><tspan x="272.0" y="519.6" font-style="italic">j</tspan><tspan x="277.9" y="520.6" font-size="20.4">)</tspan></text>
<path d="M291 515.2H331" stroke="#111" stroke-width="1.3" fill="none"/><path d="M339.2 515.2L328.6 511.6L330 515.2L328.6 518.8Z" fill="#111"/>
<text x="281" y="545.3" font-size="23.6" font-weight="bold" text-anchor="middle">(a)</text>
<g transform="rotate(-90)">
<text font-size="17.6"><tspan x="-369.4" y="23.4" font-style="italic" textLength="8.9" lengthAdjust="spacingAndGlyphs">e</tspan><tspan x="-360.8" y="28.2" font-size="13.6" font-style="italic">k</tspan><tspan x="-354.2" y="28.8" font-size="15.5">(</tspan><tspan x="-348.8" y="28.2" font-size="13.6" font-style="italic">j</tspan><tspan x="-344.8" y="28.8" font-size="15.5">)</tspan><tspan x="-339.3" y="23.4" font-size="19">,</tspan><tspan x="-329.4" y="23.4" font-style="italic" textLength="8.0" lengthAdjust="spacingAndGlyphs">z</tspan><tspan x="-320.8" y="28.2" font-size="13.6" font-style="italic">k</tspan><tspan x="-313.4" y="28.8" font-size="15.5">(</tspan><tspan x="-307.2" y="28.2" font-size="13.6" font-style="italic">j</tspan><tspan x="-302.6" y="28.8" font-size="15.5">)</tspan><tspan x="-292.4" y="23.6" font-size="24">(</tspan><tspan x="-285.4" y="24.1" font-size="19.5" font-family="'Liberation Sans', sans-serif" textLength="19.4" lengthAdjust="spacingAndGlyphs">30</tspan><tspan x="-267.4" y="23.6" font-size="24">)</tspan></text>
</g>
<path d="M18.9 253.5V213" stroke="#111" stroke-width="1.3" fill="none"/><path d="M18.9 206L15.3 216.2L18.9 214.8L22.5 216.2Z" fill="#111"/>
</g>
</svg>
</body></html>
